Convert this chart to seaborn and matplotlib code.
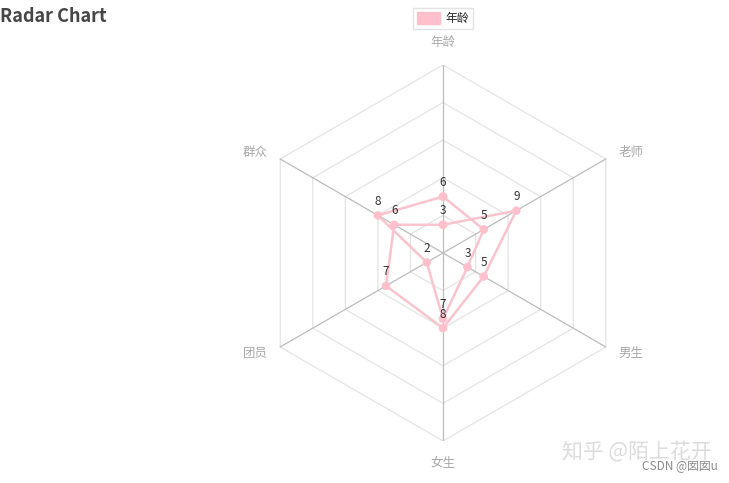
import numpy as np
import pandas as pd
import seaborn as sns
import matplotlib.pyplot as plt
from matplotlib.patches import Patch

# Data
indicators = ['年龄', '老师', '男生', '女生', '团员', '群众']
series_a = [6, 5, 3, 7, 2, 8]
series_b = [3, 9, 5, 8, 7, 6]
max_value = 20
ring_values = [4, 8, 12, 16, 20]
legend_name = '年龄'

sns.set_theme(style='white')
plt.rcParams['font.family'] = ['Noto Sans CJK SC', 'DejaVu Sans']

# angles clockwise from the top
angles = np.linspace(0, 2 * np.pi, len(indicators), endpoint=False)

rows = []
for name, vals in [('a', series_a), ('b', series_b)]:
    for i in list(range(len(indicators))) + [0]:
        rows.append({'group': name, 'indicator': indicators[i], 'value': vals[i],
                     'x': vals[i] * np.sin(angles[i]), 'y': vals[i] * np.cos(angles[i])})
df = pd.DataFrame(rows)

fig = plt.figure(figsize=(7.29, 4.83), dpi=100)
ax = fig.add_axes([0.3498, 0.0870, 0.5158, 0.7785])
ax.set_xlim(-max_value, max_value)
ax.set_ylim(-max_value, max_value)
ax.axis('off')

# hexagon grid
for r in ring_values:
    ax.plot(np.append(r * np.sin(angles), 0), np.append(r * np.cos(angles), r),
            color='#e4e4e4', lw=0.9, zorder=1)
for a in angles:
    ax.plot([0, max_value * np.sin(a)], [0, max_value * np.cos(a)],
            color='#bcbcbc', lw=0.9, zorder=2)

# series
sns.lineplot(data=df, x='x', y='y', hue='group', palette=['#f9c4cd', '#f9c4cd'],
             sort=False, estimator=None, lw=1.8, legend=False, ax=ax, zorder=3)
sns.scatterplot(data=df, x='x', y='y', color='pink', s=38, edgecolor='none',
                legend=False, ax=ax, zorder=4)
ax.set_xlabel('')
ax.set_ylabel('')

for _, row in df.drop_duplicates(['group', 'indicator']).iterrows():
    ax.annotate(str(row['value']), (row['x'], row['y']), xytext=(0, 10),
                textcoords='offset points', ha='center', va='center',
                fontsize=8.5, color='#333333', zorder=5)

# indicator names
name_offsets = [(0, 16), (18, 5), (18, -5), (0, -16), (-18, -5), (-18, 5)]
for name, a, off in zip(indicators, angles, name_offsets):
    ax.annotate(name, (max_value * np.sin(a), max_value * np.cos(a)), xytext=off,
                textcoords='offset points', ha='center', va='center',
                fontsize=9, color='#a8a8a8', annotation_clip=False)

fig.text(0.0, 1 - 16 / 483, 'Radar Chart', fontsize=13, fontweight='bold',
         color='#464646', ha='left', va='center')

fig.legend(handles=[Patch(facecolor='pink', edgecolor='pink', label=legend_name)],
           loc='upper center', bbox_to_anchor=(443 / 729, 1 - 2 / 483),
           frameon=True, fancybox=False, edgecolor='#dddddd', fontsize=8.5,
           handlelength=1.9, handleheight=1.1, borderpad=0.35, handletextpad=0.5)

# watermark
fig.text(712 / 729, 1 - 452 / 483, '知乎 @陌上花开', fontsize=15, color='#dcdcdc',
         ha='right', va='center')
fig.text(718 / 729, 1 - 466 / 483, 'CSDN @囡囡u', fontsize=8.5, color='#8c8c8c',
         ha='right', va='center')

plt.savefig('out.png', dpi=100)
